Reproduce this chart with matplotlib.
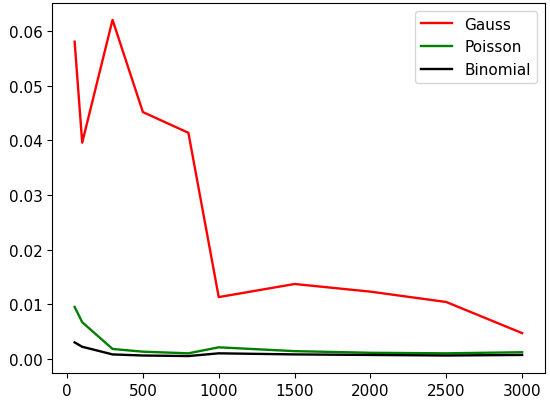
import matplotlib
matplotlib.use("Agg")
import matplotlib.pyplot as plt

x = [50, 100, 300, 500, 800, 1000, 1500, 2000, 2500, 3000]
gauss = [0.0581, 0.0396, 0.0621, 0.0452, 0.0414, 0.0113, 0.0137, 0.0123, 0.0104, 0.0047]
poisson = [0.0095, 0.0067, 0.0018, 0.0013, 0.0010, 0.0021, 0.0014, 0.0011, 0.0010, 0.0012]
binomial = [0.0030, 0.0022, 0.0008, 0.0006, 0.0005, 0.0010, 0.0008, 0.0007, 0.0006, 0.0007]

plt.rcParams['font.size'] = 11
fig, ax = plt.subplots(figsize=(5.5, 4.02), dpi=100)
ax.plot(x, gauss, color="red", label="Gauss", lw=1.7)
ax.plot(x, poisson, color="green", label="Poisson", lw=1.7)
ax.plot(x, binomial, color="black", label="Binomial", lw=1.7)
ax.legend(loc="upper right")
fig.subplots_adjust(left=0.095, right=0.99, top=0.99, bottom=0.07)
fig.savefig("out.png")
